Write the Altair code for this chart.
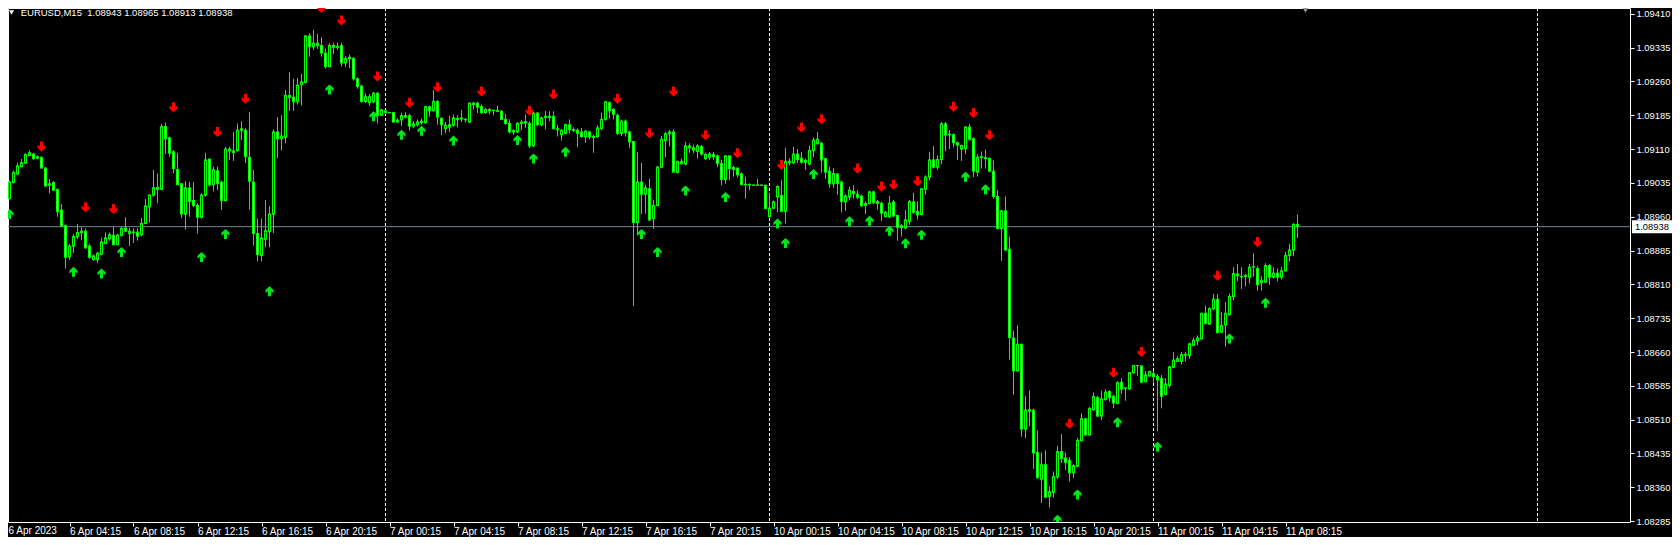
import json
import altair as alt
import pandas as pd

# ---------------- data (EURUSD M15) ----------------
opens = [
    1.08997, 1.09000, 1.09036, 1.09055, 1.09071, 1.09079, 1.09096, 1.09099, 1.09090, 1.09092,
    1.09068, 1.09030, 1.09036, 1.09021, 1.08975, 1.08941, 1.08871, 1.08895, 1.08916, 1.08925,
    1.08928, 1.08895, 1.08865, 1.08865, 1.08877, 1.08901, 1.08911, 1.08919, 1.08898, 1.08919,
    1.08935, 1.08923, 1.08926, 1.08926, 1.08920, 1.08945, 1.08982, 1.09008, 1.09021, 1.09021,
    1.09160, 1.09135, 1.09104, 1.09065, 1.09033, 1.08966, 1.09024, 1.08996, 1.08985, 1.08959,
    1.09008, 1.09088, 1.09031, 1.09062, 1.09037, 1.08996, 1.09110, 1.09106, 1.09107, 1.09152,
    1.09152, 1.09092, 1.09037, 1.08923, 1.08874, 1.08910, 1.08927, 1.08966, 1.09148, 1.09133,
    1.09136, 1.09229, 1.09225, 1.09215, 1.09253, 1.09258, 1.09361, 1.09337, 1.09345, 1.09340,
    1.09323, 1.09293, 1.09340, 1.09336, 1.09340, 1.09301, 1.09311, 1.09311, 1.09266, 1.09250,
    1.09216, 1.09213, 1.09215, 1.09234, 1.09185, 1.09191, 1.09191, 1.09191, 1.09170, 1.09175,
    1.09184, 1.09184, 1.09161, 1.09164, 1.09169, 1.09169, 1.09204, 1.09195, 1.09216, 1.09178,
    1.09156, 1.09159, 1.09163, 1.09178, 1.09177, 1.09176, 1.09170, 1.09212, 1.09212, 1.09204,
    1.09191, 1.09198, 1.09196, 1.09196, 1.09194, 1.09176, 1.09167, 1.09148, 1.09148, 1.09167,
    1.09168, 1.09167, 1.09117, 1.09190, 1.09164, 1.09180, 1.09183, 1.09183, 1.09155, 1.09142,
    1.09145, 1.09164, 1.09153, 1.09152, 1.09148, 1.09138, 1.09148, 1.09138, 1.09138, 1.09156,
    1.09176, 1.09213, 1.09198, 1.09185, 1.09145, 1.09172, 1.09148, 1.09127, 1.08947, 1.09037,
    1.09010, 1.09022, 1.08956, 1.08985, 1.09070, 1.09129, 1.09144, 1.09148, 1.09058, 1.09083,
    1.09077, 1.09117, 1.09113, 1.09105, 1.09116, 1.09089, 1.09092, 1.09098, 1.09095, 1.09078,
    1.09043, 1.09095, 1.09069, 1.09068, 1.09055, 1.09031, 1.09031, 1.09030, 1.09030, 1.09030,
    1.09030, 1.08960, 1.08979, 1.09004, 1.09007, 1.08972, 1.09083, 1.09080, 1.09099, 1.09090,
    1.09081, 1.09077, 1.09107, 1.09122, 1.09123, 1.09089, 1.09061, 1.09033, 1.09055, 1.09037,
    1.08993, 1.09004, 1.09016, 1.09010, 1.09006, 1.08989, 1.08990, 1.09015, 1.08990, 1.08990,
    1.08960, 1.08960, 1.08993, 1.08963, 1.08936, 1.08935, 1.08950, 1.08993, 1.08972, 1.08965,
    1.09021, 1.09048, 1.09086, 1.09070, 1.09087, 1.09166, 1.09143, 1.09142, 1.09124, 1.09110,
    1.09111, 1.09159, 1.09133, 1.09059, 1.09093, 1.09091, 1.09089, 1.09061, 1.09005, 1.08934,
    1.08973, 1.08888, 1.08691, 1.08618, 1.08677, 1.08489, 1.08532, 1.08531, 1.08437, 1.08378,
    1.08410, 1.08340, 1.08349, 1.08383, 1.08439, 1.08425, 1.08420, 1.08392, 1.08407, 1.08463,
    1.08512, 1.08476, 1.08532, 1.08559, 1.08518, 1.08555, 1.08572, 1.08562, 1.08546, 1.08593,
    1.08580, 1.08578, 1.08614, 1.08630, 1.08629, 1.08594, 1.08607, 1.08612, 1.08606, 1.08601,
    1.08566, 1.08586, 1.08626, 1.08639, 1.08639, 1.08653, 1.08652, 1.08675, 1.08685, 1.08689,
    1.08746, 1.08722, 1.08756, 1.08777, 1.08704, 1.08720, 1.08743, 1.08783, 1.08833, 1.08827,
    1.08828, 1.08826, 1.08849, 1.08845, 1.08814, 1.08815, 1.08852, 1.08826, 1.08835, 1.08826,
    1.08840, 1.08874, 1.08886, 1.08943,
]
highs = [
    1.09006, 1.09040, 1.09062, 1.09080, 1.09088, 1.09101, 1.09107, 1.09102, 1.09096, 1.09093,
    1.09070, 1.09043, 1.09039, 1.09022, 1.08988, 1.08942, 1.08900, 1.08922, 1.08944, 1.08937,
    1.08934, 1.08900, 1.08876, 1.08882, 1.08914, 1.08925, 1.08925, 1.08938, 1.08922, 1.08938,
    1.08959, 1.08935, 1.08934, 1.08934, 1.08957, 1.08999, 1.09010, 1.09064, 1.09056, 1.09166,
    1.09169, 1.09138, 1.09108, 1.09102, 1.09034, 1.09039, 1.09037, 1.09037, 1.08990, 1.09012,
    1.09102, 1.09089, 1.09071, 1.09071, 1.09040, 1.09115, 1.09115, 1.09148, 1.09167, 1.09172,
    1.09157, 1.09192, 1.09064, 1.08956, 1.08956, 1.08997, 1.08984, 1.09154, 1.09181, 1.09185,
    1.09241, 1.09281, 1.09266, 1.09268, 1.09277, 1.09363, 1.09367, 1.09375, 1.09366, 1.09358,
    1.09333, 1.09345, 1.09346, 1.09346, 1.09346, 1.09317, 1.09320, 1.09314, 1.09269, 1.09253,
    1.09234, 1.09232, 1.09237, 1.09237, 1.09199, 1.09198, 1.09192, 1.09192, 1.09179, 1.09191,
    1.09192, 1.09188, 1.09172, 1.09176, 1.09178, 1.09206, 1.09206, 1.09241, 1.09218, 1.09181,
    1.09170, 1.09184, 1.09187, 1.09185, 1.09197, 1.09179, 1.09213, 1.09215, 1.09215, 1.09209,
    1.09201, 1.09201, 1.09197, 1.09206, 1.09197, 1.09188, 1.09176, 1.09154, 1.09170, 1.09175,
    1.09187, 1.09172, 1.09192, 1.09192, 1.09182, 1.09195, 1.09194, 1.09194, 1.09164, 1.09154,
    1.09167, 1.09176, 1.09158, 1.09156, 1.09157, 1.09152, 1.09151, 1.09142, 1.09163, 1.09191,
    1.09216, 1.09216, 1.09201, 1.09189, 1.09175, 1.09176, 1.09151, 1.09128, 1.09104, 1.09080,
    1.09031, 1.09044, 1.08997, 1.09073, 1.09139, 1.09148, 1.09153, 1.09154, 1.09084, 1.09089,
    1.09126, 1.09123, 1.09120, 1.09121, 1.09119, 1.09102, 1.09104, 1.09104, 1.09098, 1.09086,
    1.09096, 1.09096, 1.09073, 1.09069, 1.09058, 1.09049, 1.09034, 1.09031, 1.09044, 1.09031,
    1.09031, 1.09013, 1.08996, 1.09030, 1.09041, 1.09113, 1.09090, 1.09115, 1.09110, 1.09104,
    1.09089, 1.09118, 1.09136, 1.09148, 1.09126, 1.09090, 1.09071, 1.09068, 1.09056, 1.09040,
    1.09010, 1.09027, 1.09030, 1.09019, 1.09009, 1.08994, 1.09018, 1.09018, 1.08997, 1.08993,
    1.08973, 1.09006, 1.08997, 1.08964, 1.08944, 1.08975, 1.08997, 1.09013, 1.08994, 1.09024,
    1.09052, 1.09104, 1.09117, 1.09096, 1.09170, 1.09170, 1.09152, 1.09145, 1.09127, 1.09120,
    1.09160, 1.09166, 1.09136, 1.09099, 1.09105, 1.09109, 1.09092, 1.09085, 1.09019, 1.08975,
    1.09005, 1.08916, 1.08707, 1.08719, 1.08679, 1.08562, 1.08575, 1.08535, 1.08486, 1.08437,
    1.08442, 1.08362, 1.08395, 1.08452, 1.08478, 1.08437, 1.08427, 1.08411, 1.08470, 1.08524,
    1.08513, 1.08538, 1.08570, 1.08563, 1.08574, 1.08577, 1.08575, 1.08565, 1.08595, 1.08602,
    1.08581, 1.08615, 1.08631, 1.08631, 1.08630, 1.08618, 1.08618, 1.08618, 1.08611, 1.08609,
    1.08602, 1.08629, 1.08660, 1.08651, 1.08660, 1.08660, 1.08681, 1.08691, 1.08697, 1.08747,
    1.08763, 1.08759, 1.08789, 1.08789, 1.08749, 1.08771, 1.08790, 1.08848, 1.08855, 1.08848,
    1.08833, 1.08855, 1.08879, 1.08851, 1.08828, 1.08857, 1.08855, 1.08848, 1.08845, 1.08849,
    1.08882, 1.08900, 1.08946, 1.08965,
]
lows = [
    1.08994, 1.08999, 1.09034, 1.09053, 1.09070, 1.09077, 1.09095, 1.09086, 1.09087, 1.09067,
    1.09027, 1.09012, 1.09018, 1.08960, 1.08938, 1.08845, 1.08864, 1.08880, 1.08910, 1.08908,
    1.08889, 1.08867, 1.08863, 1.08857, 1.08874, 1.08900, 1.08907, 1.08897, 1.08897, 1.08916,
    1.08926, 1.08895, 1.08902, 1.08907, 1.08917, 1.08944, 1.08947, 1.09005, 1.08990, 1.09019,
    1.09099, 1.09093, 1.09056, 1.09030, 1.08957, 1.08932, 1.08960, 1.08981, 1.08923, 1.08956,
    1.09005, 1.09027, 1.09016, 1.09019, 1.08975, 1.08994, 1.09086, 1.09084, 1.09104, 1.09130,
    1.09079, 1.08976, 1.08896, 1.08861, 1.08861, 1.08892, 1.08892, 1.08924, 1.09090, 1.09107,
    1.09123, 1.09195, 1.09195, 1.09209, 1.09207, 1.09256, 1.09315, 1.09330, 1.09332, 1.09315,
    1.09289, 1.09292, 1.09321, 1.09330, 1.09293, 1.09292, 1.09290, 1.09262, 1.09244, 1.09213,
    1.09212, 1.09206, 1.09212, 1.09167, 1.09184, 1.09186, 1.09190, 1.09169, 1.09170, 1.09161,
    1.09178, 1.09151, 1.09157, 1.09160, 1.09164, 1.09166, 1.09182, 1.09194, 1.09164, 1.09141,
    1.09145, 1.09148, 1.09160, 1.09158, 1.09170, 1.09169, 1.09169, 1.09198, 1.09190, 1.09188,
    1.09189, 1.09187, 1.09185, 1.09192, 1.09175, 1.09164, 1.09145, 1.09142, 1.09146, 1.09152,
    1.09157, 1.09113, 1.09116, 1.09161, 1.09161, 1.09154, 1.09172, 1.09154, 1.09138, 1.09129,
    1.09144, 1.09145, 1.09148, 1.09114, 1.09135, 1.09124, 1.09132, 1.09102, 1.09135, 1.09152,
    1.09173, 1.09178, 1.09176, 1.09141, 1.09139, 1.09138, 1.09113, 1.08762, 1.08919, 1.08966,
    1.08967, 1.08950, 1.08933, 1.08983, 1.09069, 1.09092, 1.09116, 1.09058, 1.09056, 1.09075,
    1.09074, 1.09102, 1.09101, 1.09089, 1.09096, 1.09086, 1.09086, 1.09086, 1.09070, 1.09030,
    1.09033, 1.09041, 1.09049, 1.09047, 1.09030, 1.09000, 1.09019, 1.09029, 1.09029, 1.09029,
    1.08977, 1.08959, 1.08978, 1.08970, 1.08971, 1.08945, 1.09074, 1.09077, 1.09079, 1.09078,
    1.09064, 1.09074, 1.09092, 1.09120, 1.09058, 1.09044, 1.09024, 1.09024, 1.09009, 1.08970,
    1.08973, 1.08996, 1.09000, 1.08999, 1.08982, 1.08966, 1.08987, 1.08988, 1.08976, 1.08950,
    1.08959, 1.08957, 1.08959, 1.08907, 1.08916, 1.08932, 1.08942, 1.08967, 1.08954, 1.08963,
    1.09009, 1.09040, 1.09067, 1.09064, 1.09077, 1.09105, 1.09110, 1.09114, 1.09086, 1.09084,
    1.09099, 1.09129, 1.09048, 1.09049, 1.09067, 1.09067, 1.09059, 1.09000, 1.08932, 1.08862,
    1.08885, 1.08643, 1.08565, 1.08617, 1.08472, 1.08469, 1.08495, 1.08401, 1.08380, 1.08325,
    1.08337, 1.08315, 1.08337, 1.08378, 1.08414, 1.08398, 1.08373, 1.08380, 1.08405, 1.08462,
    1.08475, 1.08475, 1.08530, 1.08516, 1.08509, 1.08552, 1.08550, 1.08535, 1.08544, 1.08567,
    1.08552, 1.08577, 1.08612, 1.08607, 1.08592, 1.08593, 1.08605, 1.08592, 1.08484, 1.08535,
    1.08565, 1.08581, 1.08624, 1.08638, 1.08632, 1.08639, 1.08645, 1.08673, 1.08675, 1.08688,
    1.08722, 1.08721, 1.08753, 1.08701, 1.08703, 1.08672, 1.08741, 1.08775, 1.08817, 1.08800,
    1.08805, 1.08812, 1.08827, 1.08796, 1.08796, 1.08814, 1.08809, 1.08823, 1.08817, 1.08821,
    1.08839, 1.08861, 1.08873, 1.08913,
]
closes = [
    1.09003, 1.09037, 1.09058, 1.09073, 1.09080, 1.09098, 1.09102, 1.09089, 1.09093, 1.09068,
    1.09028, 1.09033, 1.09019, 1.08971, 1.08939, 1.08870, 1.08895, 1.08916, 1.08925, 1.08928,
    1.08891, 1.08870, 1.08873, 1.08879, 1.08904, 1.08913, 1.08920, 1.08898, 1.08919, 1.08934,
    1.08928, 1.08928, 1.08925, 1.08917, 1.08945, 1.08984, 1.09008, 1.09024, 1.09025, 1.09160,
    1.09133, 1.09101, 1.09067, 1.09031, 1.08966, 1.09024, 1.08994, 1.08985, 1.08959, 1.09008,
    1.09086, 1.09031, 1.09064, 1.09034, 1.08996, 1.09110, 1.09106, 1.09102, 1.09152, 1.09155,
    1.09093, 1.09039, 1.08923, 1.08876, 1.08913, 1.08929, 1.08966, 1.09148, 1.09133, 1.09139,
    1.09229, 1.09225, 1.09215, 1.09252, 1.09259, 1.09361, 1.09337, 1.09345, 1.09340, 1.09323,
    1.09293, 1.09340, 1.09336, 1.09338, 1.09301, 1.09311, 1.09314, 1.09266, 1.09249, 1.09216,
    1.09226, 1.09226, 1.09234, 1.09185, 1.09197, 1.09195, 1.09191, 1.09170, 1.09174, 1.09184,
    1.09181, 1.09161, 1.09166, 1.09170, 1.09172, 1.09204, 1.09195, 1.09216, 1.09181, 1.09164,
    1.09163, 1.09164, 1.09179, 1.09176, 1.09179, 1.09175, 1.09212, 1.09209, 1.09203, 1.09191,
    1.09198, 1.09195, 1.09196, 1.09194, 1.09176, 1.09167, 1.09148, 1.09151, 1.09167, 1.09170,
    1.09171, 1.09117, 1.09190, 1.09164, 1.09179, 1.09183, 1.09180, 1.09155, 1.09153, 1.09152,
    1.09164, 1.09153, 1.09152, 1.09145, 1.09138, 1.09150, 1.09137, 1.09136, 1.09157, 1.09176,
    1.09215, 1.09195, 1.09187, 1.09145, 1.09172, 1.09147, 1.09126, 1.08947, 1.09037, 1.09010,
    1.09024, 1.08953, 1.08985, 1.09070, 1.09132, 1.09144, 1.09148, 1.09059, 1.09083, 1.09078,
    1.09117, 1.09113, 1.09108, 1.09117, 1.09099, 1.09098, 1.09099, 1.09093, 1.09078, 1.09043,
    1.09095, 1.09067, 1.09065, 1.09053, 1.09031, 1.09032, 1.09031, 1.09030, 1.09030, 1.09030,
    1.08978, 1.08979, 1.08993, 1.09027, 1.08972, 1.09083, 1.09080, 1.09099, 1.09087, 1.09081,
    1.09085, 1.09107, 1.09130, 1.09132, 1.09086, 1.09059, 1.09033, 1.09056, 1.09034, 1.08994,
    1.09006, 1.09019, 1.09011, 1.09003, 1.08984, 1.08985, 1.09015, 1.08991, 1.08994, 1.08968,
    1.08970, 1.08990, 1.08962, 1.08936, 1.08940, 1.08953, 1.08994, 1.08970, 1.08964, 1.09022,
    1.09048, 1.09086, 1.09070, 1.09087, 1.09166, 1.09141, 1.09142, 1.09124, 1.09119, 1.09118,
    1.09159, 1.09132, 1.09061, 1.09092, 1.09091, 1.09089, 1.09061, 1.09005, 1.08934, 1.08973,
    1.08886, 1.08692, 1.08618, 1.08677, 1.08489, 1.08531, 1.08529, 1.08436, 1.08381, 1.08410,
    1.08338, 1.08350, 1.08384, 1.08439, 1.08424, 1.08415, 1.08392, 1.08408, 1.08464, 1.08512,
    1.08476, 1.08535, 1.08561, 1.08518, 1.08556, 1.08571, 1.08559, 1.08547, 1.08592, 1.08578,
    1.08580, 1.08614, 1.08630, 1.08630, 1.08593, 1.08609, 1.08617, 1.08605, 1.08598, 1.08562,
    1.08589, 1.08627, 1.08642, 1.08645, 1.08654, 1.08655, 1.08678, 1.08686, 1.08691, 1.08746,
    1.08723, 1.08756, 1.08777, 1.08703, 1.08719, 1.08746, 1.08783, 1.08834, 1.08829, 1.08827,
    1.08830, 1.08848, 1.08849, 1.08809, 1.08818, 1.08852, 1.08826, 1.08835, 1.08826, 1.08840,
    1.08874, 1.08886, 1.08943, 1.08938,
]

# indicator arrows (bar index, price of arrow centre)
down_idx = [9, 20, 27, 42, 53, 60, 79, 84, 93, 101, 108, 119, 131, 137, 153, 161, 167,
            175, 183, 194, 199, 204, 213, 219, 222, 228, 237, 242, 246, 266, 277, 284, 303, 313]
down_price = [1.09116, 1.08981, 1.08977, 1.09203, 1.09148, 1.09222, 1.09423, 1.09395, 1.09271,
              1.09213, 1.09247, 1.09238, 1.09195, 1.09231, 1.09222, 1.09145, 1.09238, 1.09141,
              1.09101, 1.09075, 1.09158, 1.09176, 1.09067, 1.09027, 1.09031, 1.09039, 1.09204,
              1.09190, 1.09141, 1.08501, 1.08614, 1.08660, 1.08829, 1.08904]
up_idx = [1, 17, 24, 29, 49, 55, 66, 81, 92, 99, 104, 112, 128, 132, 140, 159, 163, 170,
          180, 193, 195, 202, 211, 216, 221, 225, 229, 240, 245, 263, 268, 278, 288, 306, 315]
up_price = [1.08966, 1.08838, 1.08834, 1.08882, 1.08871, 1.08922, 1.08795, 1.09242, 1.09183,
            1.09142, 1.09151, 1.09129, 1.09130, 1.09089, 1.09104, 1.08922, 1.08882, 1.09018,
            1.09004, 1.08945, 1.08902, 1.09055, 1.08950, 1.08951, 1.08929, 1.08901, 1.08920,
            1.09049, 1.09021, 1.08288, 1.08344, 1.08504, 1.08450, 1.08690, 1.08769]

day_separators = [95, 191, 287, 383]
x_tick_bars = [16, 32, 48, 64, 80, 96, 112, 128, 144, 160, 176, 192, 208, 224, 240,
               256, 272, 288, 304, 320]
x_tick_labels = ["6 Apr 04:15", "6 Apr 08:15", "6 Apr 12:15", "6 Apr 16:15",
                 "6 Apr 20:15", "7 Apr 00:15", "7 Apr 04:15", "7 Apr 08:15", "7 Apr 12:15",
                 "7 Apr 16:15", "7 Apr 20:15", "10 Apr 00:15", "10 Apr 04:15", "10 Apr 08:15",
                 "10 Apr 12:15", "10 Apr 16:15", "10 Apr 20:15", "11 Apr 00:15", "11 Apr 04:15",
                 "11 Apr 08:15"]
first_x_label = "6 Apr 2023"
y_tick_values = [1.08285, 1.08360, 1.08435, 1.08510, 1.08585, 1.08660, 1.08735, 1.08810,
                 1.08885, 1.08960, 1.09035, 1.09110, 1.09185, 1.09260, 1.09335, 1.09410]
bid_price = [1.08938]
shift_bar = [325]
header_text = "EURUSD,M15\u00a0\u00a01.08943 1.08965 1.08913 1.08938"

# ---------------- styling ----------------
W, H = 1622, 514
PAD_RIGHT, PAD_BOTTOM = 42, 15
FONT = "Liberation Sans"
LIME = "#00ff00"
DOWN_PATH = "M-0.3,-1L0.3,-1L0.3,0.05L0.8,-0.35L0.8,0.25L0,1L-0.8,0.25L-0.8,-0.35L-0.3,0.05Z"
UP_PATH = "M-0.3,1L0.3,1L0.3,-0.05L0.8,0.35L0.8,-0.25L0,-1L-0.8,-0.25L-0.8,0.35L-0.3,-0.05Z"

candles = pd.DataFrame({"idx": list(range(len(opens))), "open": opens, "high": highs,
                        "low": lows, "close": closes})
candles["top"] = candles[["open", "close"]].max(axis=1)
candles["bottom"] = candles[["open", "close"]].min(axis=1)

X0 = 0.625  # bar position at the left edge of the plot (4 px per bar)
xs = alt.Scale(domain=[X0, X0 + W / 4], nice=False, zero=False, padding=0)
ys = alt.Scale(domain=[1.08283, 1.09423], nice=False, zero=False, padding=0)

label_expr = json.dumps(x_tick_labels) + "[round(datum.value / 16) - 1]"
x_axis = alt.Axis(values=x_tick_bars, labelExpr=label_expr, labelAlign="left",
                  labelBaseline="top", labelPadding=0, tickSize=4, labelOverlap=False,
                  labelFlush=False, labelFontSize=10, title=None)
y_axis = alt.Axis(orient="right", values=y_tick_values, format=".5f", tickSize=4,
                  labelPadding=2, labelBaseline="middle", labelOverlap=False,
                  labelFlush=False, labelFontSize=9.4, title=None)


def X(field="idx"):
    return alt.X(f"{field}:Q", scale=xs, axis=x_axis)


def Y(field):
    return alt.Y(f"{field}:Q", scale=ys, axis=y_axis)


base = alt.Chart(candles)

seps = alt.Chart(pd.DataFrame({"idx": day_separators})).mark_rule(
    color="#ffffff", strokeDash=[3, 2], strokeWidth=1).encode(x=X())

bid_df = pd.DataFrame({"price": bid_price})
bid_line = alt.Chart(bid_df).mark_rule(color="#778899", strokeWidth=1).encode(y=Y("price"))

wicks = base.mark_rule(color=LIME, strokeWidth=1).encode(x=X(), y=Y("low"), y2="high:Q")
bodies = base.mark_bar(width=3, color=LIME).encode(x=X(), y=Y("top"), y2="bottom:Q")
edge_open = base.mark_rule(color=LIME, strokeWidth=1, xOffset=-1.5, x2Offset=1.5).encode(
    x=X(), x2="idx:Q", y=Y("open"))
edge_close = base.mark_rule(color=LIME, strokeWidth=1, xOffset=-1.5, x2Offset=1.5).encode(
    x=X(), x2="idx:Q", y=Y("close"))
inner = base.transform_filter("datum.top - datum.bottom > 0.00005").mark_bar(
    width=1, yOffset=1, y2Offset=-1).encode(
    x=X(), y=Y("top"), y2="bottom:Q",
    color=alt.condition("datum.close >= datum.open", alt.value("#000000"), alt.value("#ffffff")))

arrows_down = alt.Chart(pd.DataFrame({"idx": down_idx, "price": down_price})).mark_point(
    shape=DOWN_PATH, filled=True, size=100, color="#ff0000", opacity=1, strokeWidth=0,
    clip=True).encode(x=X(), y=Y("price"))
arrows_up = alt.Chart(pd.DataFrame({"idx": up_idx, "price": up_price})).mark_point(
    shape=UP_PATH, filled=True, size=100, color="#00e81c", opacity=1, strokeWidth=0,
    clip=True).encode(x=X(), y=Y("price"))

hdr_tri = alt.Chart(bid_df).mark_point(shape="triangle-down", filled=True, size=26,
                                       color="#ffffff", opacity=1).encode(
    x=alt.value(3.5), y=alt.value(4.5))
hdr_txt = alt.Chart(bid_df).mark_text(align="left", baseline="middle", color="#ffffff",
                                      font=FONT, fontSize=9.5).encode(
    x=alt.value(12.7), y=alt.value(4.5), text=alt.value(header_text))

first_lbl = alt.Chart(bid_df).mark_text(align="left", baseline="top", color="#ffffff",
                                        font=FONT, fontSize=10).encode(
    x=alt.value(0.5), y=alt.value(H + 4), text=alt.value(first_x_label))

shift_mark = alt.Chart(pd.DataFrame({"idx": shift_bar})).mark_point(
    shape="triangle-down", filled=True, size=40, color="#8a96a3", opacity=1).encode(
    x=X(), y=alt.value(2))

bid_box = alt.Chart(bid_df).mark_rect(color="#ffffff", yOffset=-6.5, y2Offset=6.5).encode(
    x=alt.value(W + 2), x2=alt.value(W + 42), y=Y("price"), y2="price:Q")
bid_txt = alt.Chart(bid_df).mark_text(align="left", baseline="middle", color="#000000",
                                      font=FONT, fontSize=9.4).encode(
    x=alt.value(W + 5), y=Y("price"), text=alt.Text("price:Q", format=".5f"))

chart = alt.layer(
    seps, bid_line, wicks, bodies, edge_open, edge_close, inner,
    arrows_down, arrows_up, hdr_tri, hdr_txt, first_lbl, shift_mark, bid_box, bid_txt
).properties(
    width=W, height=H, background="#000000",
    autosize=alt.AutoSizeParams(type="none"),
    padding={"left": 0, "top": 0, "right": PAD_RIGHT, "bottom": PAD_BOTTOM},
).configure_view(
    stroke="#ffffff", strokeWidth=1
).configure_axis(
    labelFont=FONT, labelColor="#ffffff", tickColor="#ffffff",
    domain=False, grid=False
)

chart.save("out.html", embed_options={"renderer": "svg", "actions": False})
